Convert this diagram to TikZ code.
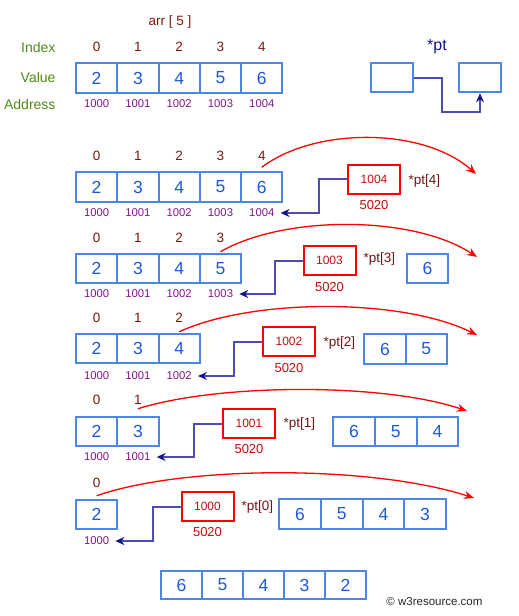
\documentclass[tikz,border=0pt]{standalone}
\usepackage{fontspec}
\setmainfont{Liberation Sans}
\usetikzlibrary{arrows.meta}

\definecolor{cellblue}{RGB}{74,134,232}
\definecolor{digitblue}{RGB}{28,88,220}
\definecolor{idxred}{RGB}{120,24,12}
\definecolor{lblgreen}{RGB}{78,138,24}
\definecolor{addrpurple}{RGB}{130,20,140}
\definecolor{ptrnavy}{RGB}{76,76,178}
\definecolor{tipnavy}{RGB}{20,20,140}
\definecolor{boxred}{RGB}{255,0,0}
\definecolor{valred}{RGB}{196,12,12}
\definecolor{ptname}{RGB}{112,20,20}

\begin{document}
\begin{tikzpicture}[x=1pt,y=-1pt,
    cell/.style={draw=cellblue,line width=2pt,minimum width=41.3pt,minimum height=29.5pt,inner sep=0pt,text=digitblue,font=\fontsize{17.5}{19}\selectfont},
    idx/.style={text=idxred,font=\fontsize{13.5}{15}\selectfont},
    addr/.style={text=addrpurple,font=\fontsize{11.3}{13}\selectfont,inner sep=1pt},
    rowlbl/.style={text=lblgreen,font=\fontsize{14}{16}\selectfont,anchor=east},
    ptrbox/.style={draw=boxred,line width=2pt,minimum width=52pt,minimum height=29pt,inner sep=0pt,text=valred,font=\fontsize{12}{14}\selectfont},
    ptraddr/.style={text=valred,font=\fontsize{13}{15}\selectfont},
    ptrname/.style={text=ptname,font=\fontsize{13.5}{15}\selectfont,anchor=west},
    ptrline/.style={draw=ptrnavy,line width=2pt,shorten >=5pt,-{Stealth[length=9pt,width=8pt,color=tipnavy]}},
    revarc/.style={draw=red,line width=1.3pt,-{Stealth[length=10pt,width=8pt]}}]
    \useasboundingbox (0,0) rectangle (519,616);

    % array and pointer
    \node[idx] (title) at (170,22) {arr [ 5 ]};
    \node[rowlbl] (lidx) at (59,47) {Index};
    \node[rowlbl] (lval) at (59,77) {Value};
    \node[rowlbl] (ladr) at (59,104) {Address};
    \foreach \v [count=\i from 0] in {2,3,4,5,6} {
        \node[cell] (t\i) at (96.6+41.3*\i,78) {\v};
        \node[idx] (ti\i) at (96.6+41.3*\i,47) {\i};
        \node[addr] (ta\i) at (96.6+41.3*\i,104) {100\i};
    }
    \node[cell,minimum width=42pt] (pl) at (392,77.5) {};
    \node[cell,minimum width=42pt] (pr) at (480,77.5) {};
    \node[text=tipnavy,font=\fontsize{16}{18}\selectfont] (ptlbl) at (437,47) {*pt};
    \draw[ptrline,shorten >=0pt] (pl.east) -- ++(28,0) -- ++(0,34.5) -| (pr.south);

    % pt[4]
    \foreach \v [count=\i from 0] in {2,3,4,5,6} {
        \node[cell] (r4c\i) at (96.6+41.3*\i,187) {\v};
        \node[idx] (r4i\i) at (96.6+41.3*\i,156) {\i};
        \node[addr] (r4a\i) at (96.6+41.3*\i,213) {100\i};
    }
    \node[ptrbox] (p4) at (374,179) {1004};
    \node[ptraddr] (p4a) at (374,205) {5020};
    \node[ptrname] (p4n) at (405,181) {*pt[4]};
    \draw[ptrline] (p4.west) -- ++(-28,0) |- (r4a4.east);
    \coordinate (e4) at (476,174);
    \draw[revarc] ([yshift=4pt]r4c4.north) .. controls (315,127) and (423,127) .. (e4);

    % pt[3]
    \foreach \v [count=\i from 0] in {2,3,4,5} {
        \node[cell] (r3c\i) at (96.6+41.3*\i,268.5) {\v};
        \node[idx] (r3i\i) at (96.6+41.3*\i,238) {\i};
        \node[addr] (r3a\i) at (96.6+41.3*\i,294) {100\i};
    }
    \node[ptrbox] (p3) at (329.5,260.5) {1003};
    \node[ptraddr] (p3a) at (329.5,287) {5020};
    \node[ptrname] (p3n) at (360,259) {*pt[3]};
    \node[cell] (s3c0) at (427.5,268.5) {6};
    \draw[ptrline] (p3.west) -- ++(-28,0) |- (r3a3.east);
    \coordinate (e3) at (477,257);
    \draw[revarc] ([yshift=1pt]r3c3.north) .. controls (284,215) and (413,215) .. (e3);

    % pt[2]
    \foreach \v [count=\i from 0] in {2,3,4} {
        \node[cell] (r2c\i) at (96.6+41.3*\i,348.5) {\v};
        \node[idx] (r2i\i) at (96.6+41.3*\i,318) {\i};
        \node[addr] (r2a\i) at (96.6+41.3*\i,376) {100\i};
    }
    \node[ptrbox] (p2) at (289,341.5) {1002};
    \node[ptraddr] (p2a) at (289,368) {5020};
    \node[ptrname] (p2n) at (320,343) {*pt[2]};
    \foreach \v [count=\i from 0] in {6,5} {
        \node[cell] (s2c\i) at (385+41.3*\i,349) {\v};
    }
    \draw[ptrline] (p2.west) -- ++(-28,0) |- (r2a2.east);
    \coordinate (e2) at (477,335);
    \draw[revarc] ([yshift=1pt]r2c2.north) .. controls (253,298) and (402,298) .. (e2);

    % pt[1]
    \foreach \v [count=\i from 0] in {2,3} {
        \node[cell] (r1c\i) at (96.6+41.3*\i,431.5) {\v};
        \node[idx] (r1i\i) at (96.6+41.3*\i,400) {\i};
        \node[addr] (r1a\i) at (96.6+41.3*\i,457) {100\i};
    }
    \node[ptrbox] (p1) at (249,423.5) {1001};
    \node[ptraddr] (p1a) at (249,449) {5020};
    \node[ptrname] (p1n) at (280,424) {*pt[1]};
    \foreach \v [count=\i from 0] in {6,5,4} {
        \node[cell,minimum width=41.7pt] (s1c\i) at (354+41.7*\i,431.5) {\v};
    }
    \draw[ptrline] (p1.west) -- ++(-28,0) |- (r1a1.east);
    \coordinate (e1) at (467,411);
    \draw[revarc] ([yshift=7pt]r1c1.north) .. controls (220,383) and (385,383) .. (e1);

    % pt[0]
    \node[cell] (r0c0) at (96.6,514.5) {2};
    \node[idx] (r0i0) at (96.6,483) {0};
    \node[addr] (r0a0) at (96.6,541) {1000};
    \node[ptrbox] (p0) at (207.5,506.5) {1000};
    \node[ptraddr] (p0a) at (207.5,532) {5020};
    \node[ptrname] (p0n) at (238,507) {*pt[0]};
    \foreach \v [count=\i from 0] in {6,5,4,3} {
        \node[cell,minimum width=41.7pt] (s0c\i) at (300+41.7*\i,514) {\v};
    }
    \draw[ptrline] (p0.west) -- ++(-28,0) |- (r0a0.east);
    \coordinate (e0) at (474,498);
    \draw[revarc] ([yshift=3pt]r0c0.north) .. controls (185,465) and (372,465) .. (e0);

    % reversed array
    \foreach \v [count=\i from 0] in {6,5,4,3,2} {
        \node[cell,minimum width=41pt,minimum height=28.5pt] (f\i) at (181.5+41*\i,585) {\v};
    }
    \node[anchor=east,text=black!85,font=\fontsize{11.5}{13}\selectfont] (copy) at (486,602) {\textcopyright\ w3resource.com};
\end{tikzpicture}
\end{document}
